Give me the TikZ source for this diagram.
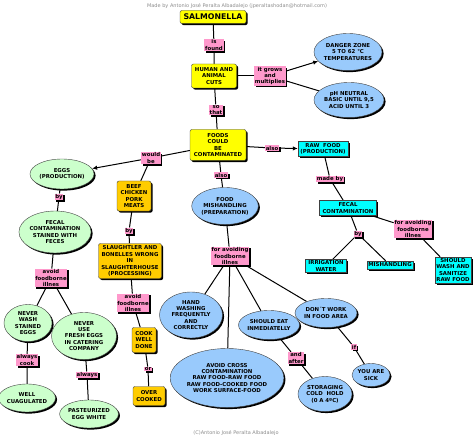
\documentclass[tikz,border=0pt]{standalone}
\usepackage{fontspec}
\setmainfont{DejaVu Sans}
\usetikzlibrary{shapes.geometric,shadows,arrows.meta,backgrounds}
\definecolor{cyel}{RGB}{255,255,0}
\definecolor{cpink}{RGB}{255,153,204}
\definecolor{cblue}{RGB}{153,202,252}
\definecolor{cgreen}{RGB}{204,255,204}
\definecolor{corange}{RGB}{255,204,0}
\definecolor{ccyan}{RGB}{0,255,255}
\tikzset{
  base/.style={font=\fontsize{5.4}{6.4}\selectfont\bfseries, align=center, text=black,
    draw=black!75, line width=0.4pt,
    drop shadow={shadow xshift=1.6pt, shadow yshift=-1.6pt, fill=black, opacity=1}},
  ybox/.style={base, rectangle, rounded corners=2pt, fill=cyel, inner sep=1pt},
  obox/.style={base, rectangle, rounded corners=2pt, fill=corange, inner sep=1pt},
  cbox/.style={base, rectangle, fill=ccyan, inner sep=1pt},
  lbl/.style={base, rectangle, fill=cpink, inner sep=0.7pt, draw=none},
  bell/.style={base, ellipse, fill=cblue, inner sep=0pt},
  gell/.style={base, ellipse, fill=cgreen, inner sep=0pt},
  conn/.style={draw=black, line width=1pt},
  arr/.style={conn, -{Latex[length=5pt,width=4.5pt]}},
  note/.style={font=\fontsize{5}{6}\selectfont, text=black!45}
}
\begin{document}
\begin{tikzpicture}[x=1pt,y=-1pt]
\useasboundingbox (0,0) rectangle (474,441);
\node[note] (hdr) at (237,6) {Made by Antonio José Peralta Albadalejo (jperaltashodan@hotmail.com)};
\node[note] (ftr) at (236,433) {(C)Antonio José Peralta Albadalejo};

\node[ybox, minimum width=66pt, minimum height=13pt, font=\fontsize{7.8}{9}\selectfont\bfseries] (sal) at (213,17) {SALMONELLA};
\node[lbl] (found) at (214,45) {is\\found};
\node[ybox, minimum width=45pt, minimum height=24pt] (human) at (214,76) {HUMAN AND\\ANIMAL\\CUTS};
\node[lbl] (grows) at (270,76) {it grows\\and\\multiplies};
\node[bell, minimum width=64pt, minimum height=37pt] (danger) at (348,52) {DANGER ZONE\\5 TO 62 °C\\TEMPERATURES};
\node[bell, minimum width=66pt, minimum height=35pt] (ph) at (349,100) {pH NEUTRAL\\BASIC UNTIL 9,5\\ACID UNTIL 3};
\node[lbl] (sothat) at (216,110) {so\\that};
\node[ybox, minimum width=56pt, minimum height=31pt] (foods) at (218,145) {FOODS\\COULD\\BE\\CONTAMINATED};
\node[lbl] (alsoR) at (272,148) {also};
\node[cbox, minimum width=50pt, minimum height=15pt] (raw) at (323,149) {RAW~ FOOD\\(PRODUCTION)};
\node[lbl] (madeby) at (330,179) {made by};
\node[cbox, minimum width=57pt, minimum height=15pt] (fecal) at (348,208) {FECAL\\CONTAMINATION};
\node[lbl] (byA) at (358,234) {by};
\node[cbox, minimum width=41pt, minimum height=13pt] (irr) at (326,266) {IRRIGATION\\WATER};
\node[cbox, minimum width=46pt, minimum height=8pt] (mish) at (390,265) {MISHANDLING};
\node[lbl] (avoidR) at (413,229) {for avoiding\\foodborne\\illnes};
\node[cbox, minimum width=36pt, minimum height=26pt] (wash) at (453,270) {SHOULD\\WASH AND\\SANITIZE\\RAW FOOD};

\node[lbl] (would) at (151,158) {would\\be};
\node[gell, minimum width=60pt, minimum height=30pt] (eggs) at (62,174) {EGGS\\(PRODUCTION)};
\node[lbl] (byB) at (59,197) {by};
\node[gell, minimum width=72pt, minimum height=42pt] (fecalB) at (55,232) {FECAL\\CONTAMINATION\\STAINED WITH\\FECES};
\node[obox, minimum width=34pt, minimum height=30pt] (beef) at (134,196) {BEEF\\CHICKEN\\PORK\\MEATS};
\node[lbl] (byC) at (129,231) {by};
\node[obox, minimum width=63pt, minimum height=35pt] (slaught) at (130,261) {SLAUGHTLER AND\\BONELLES WRONG\\IN\\SLAUGHTERHOUSE\\(PROCESSING)};

\node[lbl] (alsoD) at (221,175) {also};
\node[bell, minimum width=64pt, minimum height=37pt] (fmis) at (225,206) {FOOD\\MISHANDLING\\(PREPARATION)};
\node[lbl] (avoidC) at (230,256) {for avoiding\\foodborne\\illnes};

\node[lbl] (avoidE) at (51,278) {avoid\\foodborne\\illnes};
\node[lbl] (avoidB) at (133,303) {avoid\\foodborne\\illnes};
\node[gell, minimum width=48pt, minimum height=37pt] (neverwash) at (28,323) {NEVER\\WASH\\STAINED\\EGGS};
\node[gell, minimum width=65pt, minimum height=47pt] (neveruse) at (84,336) {NEVER\\USE\\FRESH EGGS\\IN CATERING\\COMPANY};
\node[lbl] (alwayscook) at (27,360) {always\\cook};
\node[gell, minimum width=51pt, minimum height=28pt] (well) at (27,398) {WELL\\CUAGULATED};
\node[lbl] (always) at (87,375) {always};
\node[gell, minimum width=55pt, minimum height=28pt] (past) at (89,414) {PASTEURIZED\\EGG WHITE};
\node[obox, minimum width=24pt, minimum height=25pt] (cook) at (144,340) {COOK\\WELL\\DONE};
\node[lbl] (or) at (148,369) {or};
\node[obox, minimum width=32pt, minimum height=19pt] (over) at (149,396) {OVER\\COOKED};

\node[bell, minimum width=63pt, minimum height=46pt] (hand) at (191,315) {HAND\\WASHING\\FREQUENTLY\\AND\\CORRECTLY};
\node[bell, minimum width=102pt, minimum height=59pt] (cross) at (227,378) {AVOID CROSS\\CONTAMINATION\\RAW FOOD-RAW FOOD\\RAW FOOD-COOKED FOOD\\WORK SURFACE-FOOD};
\node[bell, minimum width=58pt, minimum height=29pt] (eat) at (269,325) {SHOULD EAT\\INMEDIATELLY};
\node[bell, minimum width=57pt, minimum height=29pt] (dont) at (326,313) {DON´T WORK\\IN FOOD AREA};
\node[lbl] (andafter) at (296,358) {and\\after};
\node[bell, minimum width=54pt, minimum height=35pt] (stor) at (325,394) {STORAGING\\COLD~ HOLD\\(0 A 4ºC)};
\node[lbl] (if) at (354,347) {if};
\node[bell, minimum width=38pt, minimum height=23pt] (sick) at (371,375) {YOU ARE\\SICK};

\begin{scope}[on background layer]
\draw[conn] (sal) -- (found) -- (human);
\draw[conn] (human) -- (grows);
\draw[arr] (grows) -- (danger);
\draw[conn] (grows) -- (ph);
\draw[conn] (human) -- (sothat) -- (foods);
\draw[conn] (foods) -- (alsoR);
\draw[arr] (alsoR) -- (raw);
\draw[conn] (raw) -- (madeby) -- (fecal);
\draw[conn] (fecal) -- (byA) -- (irr);
\draw[conn] (byA) -- (mish);
\draw[conn] (fecal) -- (avoidR) -- (wash);
\draw[conn] (foods) -- (would);
\draw[arr] (would) -- (eggs);
\draw[conn] (would) -- (beef);
\draw[conn] (eggs) -- (byB) -- (fecalB);
\draw[conn] (fecalB) -- (avoidE) -- (neverwash);
\draw[conn] (avoidE) -- (neveruse);
\draw[conn] (neverwash) -- (alwayscook) -- (well);
\draw[conn] (neveruse) -- (always) -- (past);
\draw[conn] (beef) -- (byC) -- (slaught);
\draw[conn] (slaught) -- (avoidB) -- (cook);
\draw[conn] (cook) -- (or) -- (over);
\draw[conn] (foods) -- (alsoD) -- (fmis);
\draw[conn] (fmis) -- (avoidC);
\draw[conn] (avoidC) -- (hand);
\draw[conn] (avoidC) -- (cross);
\draw[conn] (avoidC) -- (eat);
\draw[conn] (avoidC) -- (dont);
\draw[conn] (eat) -- (andafter) -- (stor);
\draw[conn] (dont) -- (if) -- (sick);
\end{scope}
\end{tikzpicture}
\end{document}
